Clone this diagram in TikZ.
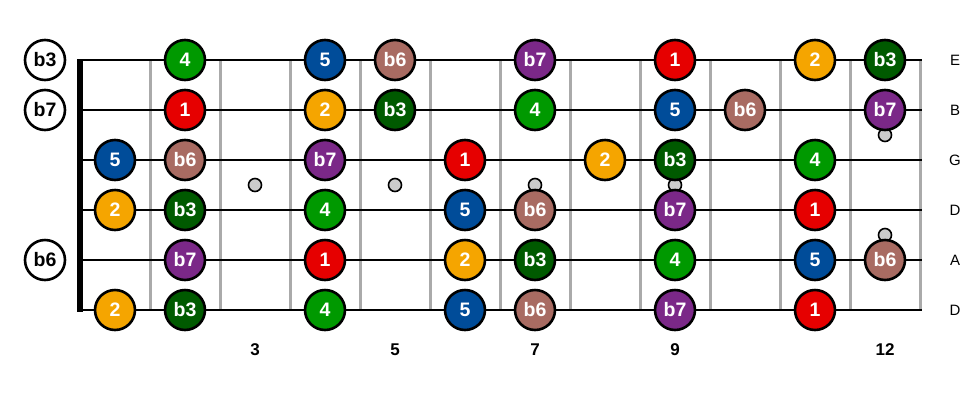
\documentclass[tikz,border=0pt]{standalone}
\usepackage{fontspec}
\setmainfont{Liberation Sans}
\definecolor{rootred}{HTML}{E60000}
\definecolor{secondorange}{HTML}{F5A500}
\definecolor{thirdgreen}{HTML}{005A00}
\definecolor{fourthgreen}{HTML}{009900}
\definecolor{fifthblue}{HTML}{004C99}
\definecolor{sixthbrown}{HTML}{A86B62}
\definecolor{seventhpurple}{HTML}{7B2888}
\definecolor{fretgray}{HTML}{AAAAAA}

\begin{document}
\begin{tikzpicture}[line join=round,x=1pt,y=-1pt,
	note/.style={circle,draw=black,line width=2.6pt,minimum size=40pt,inner sep=0pt,text=white,font=\fontsize{19.5}{19.5}\selectfont\bfseries},
	deg1/.style={note,fill=rootred},
	deg2/.style={note,fill=secondorange},
	degb3/.style={note,fill=thirdgreen},
	deg4/.style={note,fill=fourthgreen},
	deg5/.style={note,fill=fifthblue},
	degb6/.style={note,fill=sixthbrown},
	degb7/.style={note,fill=seventhpurple},
	opennote/.style={note,fill=white,text=black},
	inlay/.style={circle,draw=black,line width=1.6pt,fill=gray!40,minimum size=13pt,inner sep=0pt},
	fretnum/.style={font=\fontsize{17}{17}\selectfont\bfseries},
	stringname/.style={font=\fontsize{15}{15}\selectfont}]
		\useasboundingbox (0,0) rectangle (980,400);
		% frets and strings
		\foreach \f in {150,220,...,920}
			\draw [line width=3pt,color=fretgray] (\f,60) -- (\f,310);
		\foreach \s in {60,110,...,310}
			\draw [line width=2.2pt] (80,\s) -- (922,\s);
		\draw [line width=6.5pt] (80,59) -- (80,311.5);
		% inlays
		\node[inlay] (m3) at (255,185) {};
		\node[inlay] (m5) at (395,185) {};
		\node[inlay] (m7) at (535,185) {};
		\node[inlay] (m9) at (675,185) {};
		\node[inlay] (m12a) at (885,135) {};
		\node[inlay] (m12b) at (885,235) {};
		% E string
		\node[opennote] (E0) at (45,60) {b3};
		\node[deg4] (E2) at (185,60) {4};
		\node[deg5] (E4) at (325,60) {5};
		\node[degb6] (E5) at (395,60) {b6};
		\node[degb7] (E7) at (535,60) {b7};
		\node[deg1] (E9) at (675,60) {1};
		\node[deg2] (E11) at (815,60) {2};
		\node[degb3] (E12) at (885,60) {b3};
		% B string
		\node[opennote] (B0) at (45,110) {b7};
		\node[deg1] (B2) at (185,110) {1};
		\node[deg2] (B4) at (325,110) {2};
		\node[degb3] (B5) at (395,110) {b3};
		\node[deg4] (B7) at (535,110) {4};
		\node[deg5] (B9) at (675,110) {5};
		\node[degb6] (B10) at (745,110) {b6};
		\node[degb7] (B12) at (885,110) {b7};
		% G string
		\node[deg5] (G1) at (115,160) {5};
		\node[degb6] (G2) at (185,160) {b6};
		\node[degb7] (G4) at (325,160) {b7};
		\node[deg1] (G6) at (465,160) {1};
		\node[deg2] (G8) at (605,160) {2};
		\node[degb3] (G9) at (675,160) {b3};
		\node[deg4] (G11) at (815,160) {4};
		% D string
		\node[deg2] (D1) at (115,210) {2};
		\node[degb3] (D2) at (185,210) {b3};
		\node[deg4] (D4) at (325,210) {4};
		\node[deg5] (D6) at (465,210) {5};
		\node[degb6] (D7) at (535,210) {b6};
		\node[degb7] (D9) at (675,210) {b7};
		\node[deg1] (D11) at (815,210) {1};
		% A string
		\node[opennote] (A0) at (45,260) {b6};
		\node[degb7] (A2) at (185,260) {b7};
		\node[deg1] (A4) at (325,260) {1};
		\node[deg2] (A6) at (465,260) {2};
		\node[degb3] (A7) at (535,260) {b3};
		\node[deg4] (A9) at (675,260) {4};
		\node[deg5] (A11) at (815,260) {5};
		\node[degb6] (A12) at (885,260) {b6};
		% low D string
		\node[deg2] (LD1) at (115,310) {2};
		\node[degb3] (LD2) at (185,310) {b3};
		\node[deg4] (LD4) at (325,310) {4};
		\node[deg5] (LD6) at (465,310) {5};
		\node[degb6] (LD7) at (535,310) {b6};
		\node[degb7] (LD9) at (675,310) {b7};
		\node[deg1] (LD11) at (815,310) {1};
		% fret numbers
		\node[fretnum] (n3) at (255,350) {3};
		\node[fretnum] (n5) at (395,350) {5};
		\node[fretnum] (n7) at (535,350) {7};
		\node[fretnum] (n9) at (675,350) {9};
		\node[fretnum] (n12) at (885,350) {12};
		% string names
		\node[stringname] (sE) at (955,60) {E};
		\node[stringname] (sB) at (955,110) {B};
		\node[stringname] (sG) at (955,160) {G};
		\node[stringname] (sD) at (955,210) {D};
		\node[stringname] (sA) at (955,260) {A};
		\node[stringname] (sLD) at (955,310) {D};
	\end{tikzpicture}
\end{document}
